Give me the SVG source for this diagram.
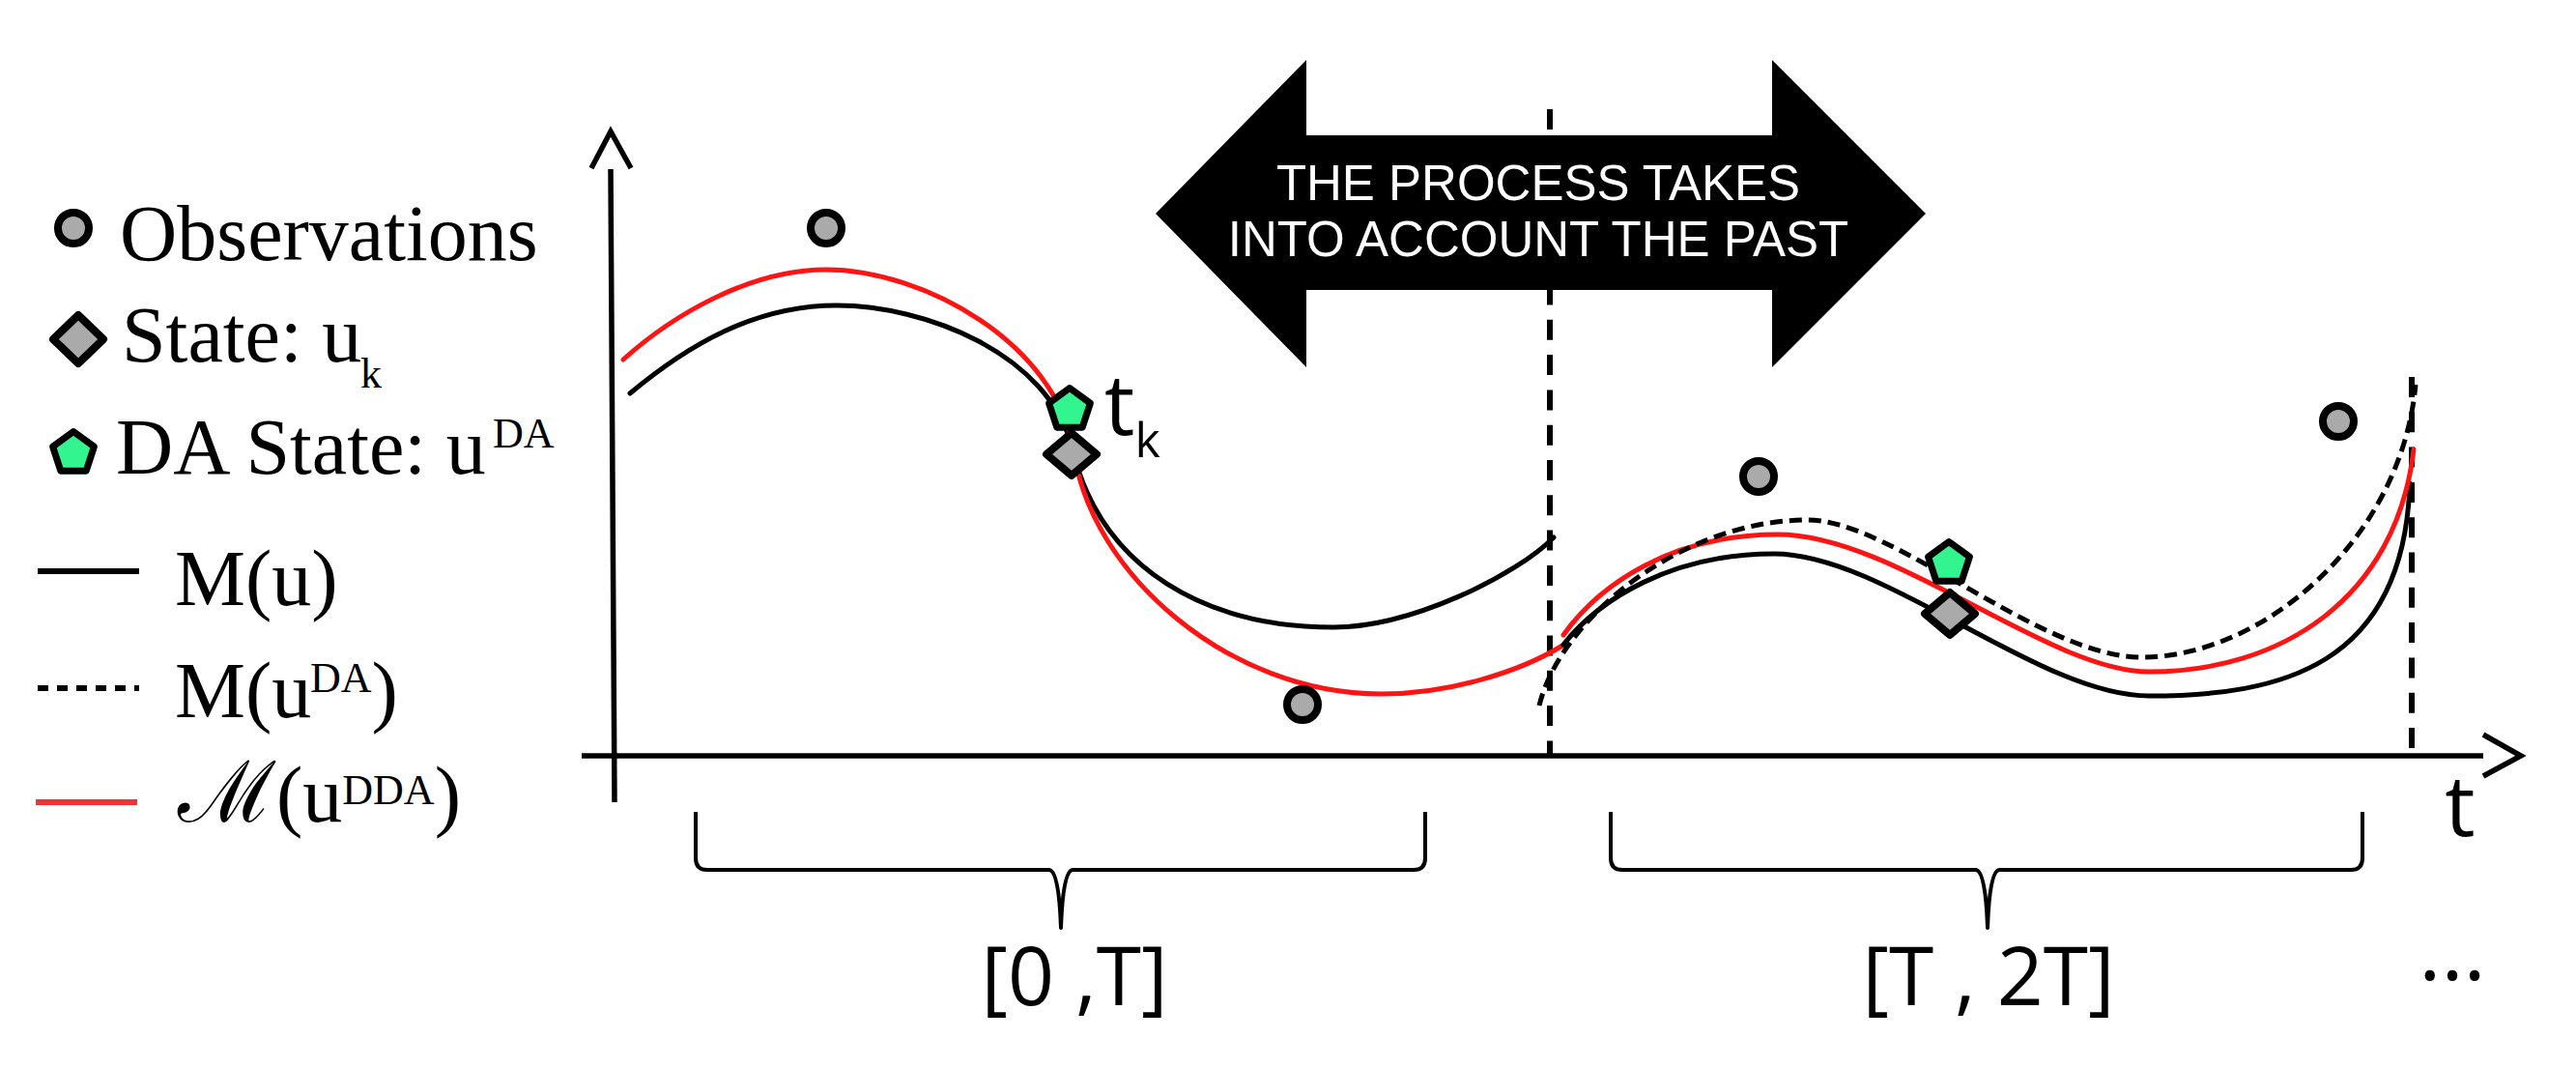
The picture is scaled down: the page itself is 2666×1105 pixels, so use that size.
<svg xmlns="http://www.w3.org/2000/svg" xmlns:xlink="http://www.w3.org/1999/xlink" width="2666" height="1105" viewBox="0 0 2666 1105">
<style>
.ax{stroke:#000;stroke-width:5.5;fill:none}
.blk{stroke:#000;stroke-width:5;fill:none;stroke-linecap:round}
.red{stroke:#ff1414;stroke-width:5;fill:none;stroke-linecap:round}
.dsh{stroke:#000;stroke-width:5;fill:none;stroke-dasharray:13 7}
.vd{stroke:#000;stroke-width:6;stroke-dasharray:21 15.3}
.obs{fill:#aaaaaa;stroke:#000;stroke-width:8}
.st{fill:#aaaaaa;stroke:#000;stroke-width:8;stroke-linejoin:round}
.da{fill:#33f590;stroke:#000;stroke-width:7;stroke-linejoin:round}
.serif{font-family:"Liberation Serif","Times New Roman","DejaVu Serif",serif;font-size:82px;fill:#000}
.sup{font-size:44px}
.sans{font-family:"Open Sans","Liberation Sans",sans-serif;fill:#000}
.brace{stroke:#000;stroke-width:4;fill:none;stroke-linejoin:round}
.banner{font-family:"Liberation Sans",Arial,sans-serif;font-size:51px;fill:#fff}
</style>
<defs>
<polygon id="pent" points="0,-22.5 21.4,-6.95 13.2,18.2 -13.2,18.2 -21.4,-6.95"/>
<polygon id="diam" points="-26,0 0,-22 26,0 0,22"/>
<polygon id="diamL" points="-26,0 0,-25 26,0 0,25"/>
</defs>
<rect width="2666" height="1105" fill="#fff"/>

<g id="legend">
<circle class="obs" cx="76" cy="236" r="16"/>
<text class="serif" x="124" y="269">Observations</text>
<use href="#diamL" class="st" x="81" y="351"/>
<text class="serif" x="126" y="374">State: u<tspan class="sup" x="373" y="401">k</tspan></text>
<use href="#pent" class="da" x="76" y="469"/>
<text class="serif" x="120" y="490">DA State: u<tspan class="sup" x="510" y="463">DA</tspan></text>
<line x1="39" y1="591" x2="144" y2="591" stroke="#000" stroke-width="6"/>
<text class="serif" x="181" y="626">M(u)</text>
<line x1="39" y1="712" x2="144" y2="712" stroke="#000" stroke-width="6" stroke-dasharray="11 9"/>
<text class="serif" x="181" y="742">M(u<tspan class="sup" x="321" y="716">DA</tspan><tspan y="742">)</tspan></text>
<line x1="37" y1="830" x2="142" y2="830" stroke="#ee3333" stroke-width="6"/>
<text class="serif" x="184" y="850"><tspan font-size="88">ℳ</tspan>(u<tspan class="sup" dy="-18">DDA</tspan><tspan dy="18">)</tspan></text>
</g>

<g id="axes">
<line class="ax" x1="632" y1="175" x2="636" y2="830"/>
<polyline class="ax" points="612,174 632,136 653,174"/>
<line class="ax" x1="602" y1="782" x2="2570" y2="782"/>
<polyline class="ax" points="2570,760 2609,782 2570,803"/>
<text class="sans" x="2546" y="865" font-size="88" text-anchor="middle">t</text>
</g>

<g id="interval-lines">
<line class="vd" x1="1604" y1="113" x2="1604" y2="782"/>
<line class="vd" x1="2496" y1="390" x2="2496" y2="782"/>
</g>

<g id="banner">
<polygon points="1196,221 1352,62 1352,140 1834,140 1834,62 1993,221 1834,380 1834,300 1352,300 1352,380" fill="#000"/>
<text class="banner" x="1592" y="207" text-anchor="middle">THE PROCESS TAKES</text>
<text class="banner" x="1592" y="265" text-anchor="middle">INTO ACCOUNT THE PAST</text>
</g>

<g id="connectors">
<path class="blk" d="M652,407 C712,357 781,316 866,316 C956,316 1086,365 1110,465 C1140,590 1250,649 1380,649 C1460,649 1570,595 1608,556"/>
<path class="red" d="M645,372 C695,327 775,279 855,279 C955,279 1095,355 1112,470 C1130,592 1270,718 1429,718 C1500,718 1573,695 1617,668"/>
<path class="blk" d="M1618,667 C1655,620 1730,573 1836,573 C1950,573 2110,720 2224,720 C2360,720 2488,690 2494,500"/>
<path class="red" d="M1618,657 C1655,605 1730,553 1840,553 C1960,553 2120,695 2224,695 C2360,695 2480,620 2498,465"/>
<path class="dsh" d="M1593,730 C1615,640 1740,538 1871,538 C1960,538 2110,680 2217,680 C2340,680 2485,560 2500,398"/>
</g>

<g id="observations">
<circle class="obs" cx="855" cy="236" r="16"/>
<circle class="obs" cx="1348" cy="729" r="16"/>
<circle class="obs" cx="1820" cy="493" r="16"/>
<circle class="obs" cx="2420" cy="436" r="16"/>
</g>

<g id="states">
<use href="#diam" class="st" x="1109" y="470"/>
<use href="#pent" class="da" x="1107" y="424"/>
<use href="#diam" class="st" x="2018" y="635"/>
<use href="#pent" class="da" x="2017" y="583"/>
<text class="sans" x="1143" y="450" font-size="88">t<tspan font-size="50" y="473">k</tspan></text>
</g>

<g id="brace-0-T">
<path class="brace" d="M720,840 L720,888 Q720,900 732,900 L1086,900 Q1096,901 1098,960 Q1100,901 1110,900 L1463,900 Q1475,900 1475,888 L1475,840"/>
<text class="sans" x="1112" y="1040" font-size="84" text-anchor="middle">[0 ,T]</text>
</g>

<g id="brace-T-2T">
<path class="brace" d="M1667,840 L1667,888 Q1667,900 1679,900 L2045,900 Q2055,901 2057,960 Q2059,901 2069,900 L2433,900 Q2445,900 2445,888 L2445,840"/>
<text class="sans" x="2058" y="1040" font-size="84" text-anchor="middle">[T , 2T]</text>
</g>

<text class="sans" x="2538" y="1014" font-size="88" text-anchor="middle">...</text>
</svg>
